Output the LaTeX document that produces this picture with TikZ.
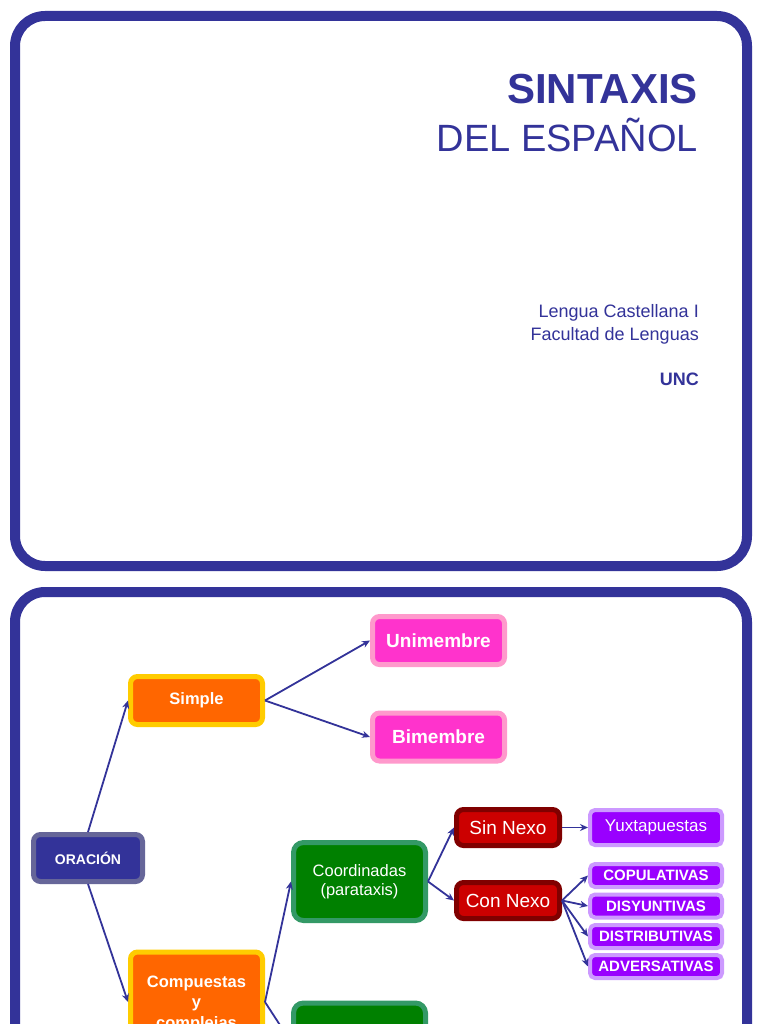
\documentclass[tikz,border=0pt]{standalone}
\usepackage{fontspec}
\setmainfont{Liberation Sans}
\usetikzlibrary{arrows.meta}
\definecolor{navy}{HTML}{333399}
\definecolor{navyl}{HTML}{666699}
\definecolor{orangef}{HTML}{FF6600}
\definecolor{yellowd}{HTML}{FFCC00}
\definecolor{pinkf}{HTML}{FF33CC}
\definecolor{pinkd}{HTML}{FF99CC}
\definecolor{greenf}{HTML}{008000}
\definecolor{greend}{HTML}{339966}
\definecolor{redf}{HTML}{CC0000}
\definecolor{redd}{HTML}{800000}
\definecolor{purf}{HTML}{9900FF}
\definecolor{purd}{HTML}{CC99FF}
\newcommand{\fs}[1]{\fontsize{#1}{#1}\selectfont}
\tikzset{
  frame/.style={draw=navy,line width=10pt,rounded corners=30pt},
  box/.style={rectangle,rounded corners=7pt,line width=5pt,inner sep=0pt,text=white,align=center},
  oraciones/.style={box,draw=navyl,fill=navy,minimum width=109pt,minimum height=47pt,font=\fs{14}\bfseries},
  orangebox/.style={box,draw=yellowd,fill=orangef,minimum width=132pt,font=\fs{16.5}\bfseries},
  pinkbox/.style={box,draw=pinkd,fill=pinkf,minimum width=132pt,minimum height=48pt,font=\fs{19}\bfseries},
  greenbox/.style={box,draw=greend,fill=greenf,rounded corners=10pt,minimum width=132pt,minimum height=78pt,font=\fs{16.5}},
  redbox/.style={box,draw=redd,fill=redf,minimum width=103pt,minimum height=36pt,font=\fs{19}},
  purplebox/.style={box,draw=purd,fill=purf,line width=4pt,rounded corners=5pt,minimum width=132pt,minimum height=23pt,font=\fs{15}\bfseries},
  link/.style={draw=navy,line width=1.8pt,-{Stealth[length=8pt,width=7pt]}},
  titletext/.style={text=navy,anchor=base east,inner sep=0pt}
}
\begin{document}
\begin{tikzpicture}[x=1pt,y=-1pt]
\path[use as bounding box,fill=white] (0,0) rectangle (768,1024);
\clip (0,0) rectangle (768,1024);
\draw[frame] (15,16) rectangle (747,566);
\draw[frame] (15,592) rectangle (747,1140);
\node[titletext,font=\fs{42}\bfseries] (t1) at (698,104) {SINTAXIS};
\node[titletext,font=\fs{38}] (t2) at (698,152) {DEL ESPAÑOL};
\node[titletext,font=\fs{18}] (t3) at (699,317) {Lengua Castellana I};
\node[titletext,font=\fs{18}] (t4) at (699,340) {Facultad de Lenguas};
\node[titletext,font=\fs{18}\bfseries] (t5) at (699,385) {UNC};
\node[oraciones] (or) at (88,858) {ORACIÓN};
\node[orangebox,minimum height=48pt] (si) at (196.5,700.5) {Simple};
\node[orangebox,minimum height=100pt,text depth=0pt] (co) at (196.5,1002) {Compuestas\\[4pt]y\\[4pt]complejas};
\node[pinkbox] (un) at (438.5,640.5) {Unimembre};
\node[pinkbox] (bi) at (438.5,737) {Bimembre};
\node[greenbox] (cd) at (359.5,881.5) {Coordinadas\\[3pt](parataxis)};
\node[greenbox] (gb) at (359.5,1042) {};
\node[redbox] (sn) at (508,827.5) {Sin Nexo};
\node[redbox] (cn) at (508,900.5) {Con Nexo};
\node[purplebox,minimum height=35pt,font=\fs{17}\mdseries] (yu) at (656,827.5) {Yuxtapuestas};
\node[purplebox] (p1) at (656,875.5) {COPULATIVAS};
\node[purplebox] (p2) at (656,906) {DISYUNTIVAS};
\node[purplebox] (p3) at (656,936.5) {DISTRIBUTIVAS};
\node[purplebox] (p4) at (656,966.5) {ADVERSATIVAS};
\draw[link] (or.north) -- (si.west);
\draw[link] (or.south) -- (co.west);
\draw[link] (si.east) -- (un.west);
\draw[link] (si.east) -- (bi.west);
\draw[link] (co.east) -- (cd.west);
\draw[link] (co.east) -- (gb.west);
\draw[link] (cd.east) -- (sn.west);
\draw[link] (cd.east) -- (cn.west);
\draw[link] (sn.east) -- (yu.west);
\draw[link] (cn.east) -- (p1.west);
\draw[link] (cn.east) -- (p2.west);
\draw[link] (cn.east) -- (p3.west);
\draw[link] (cn.east) -- (p4.west);
\end{tikzpicture}
\end{document}
